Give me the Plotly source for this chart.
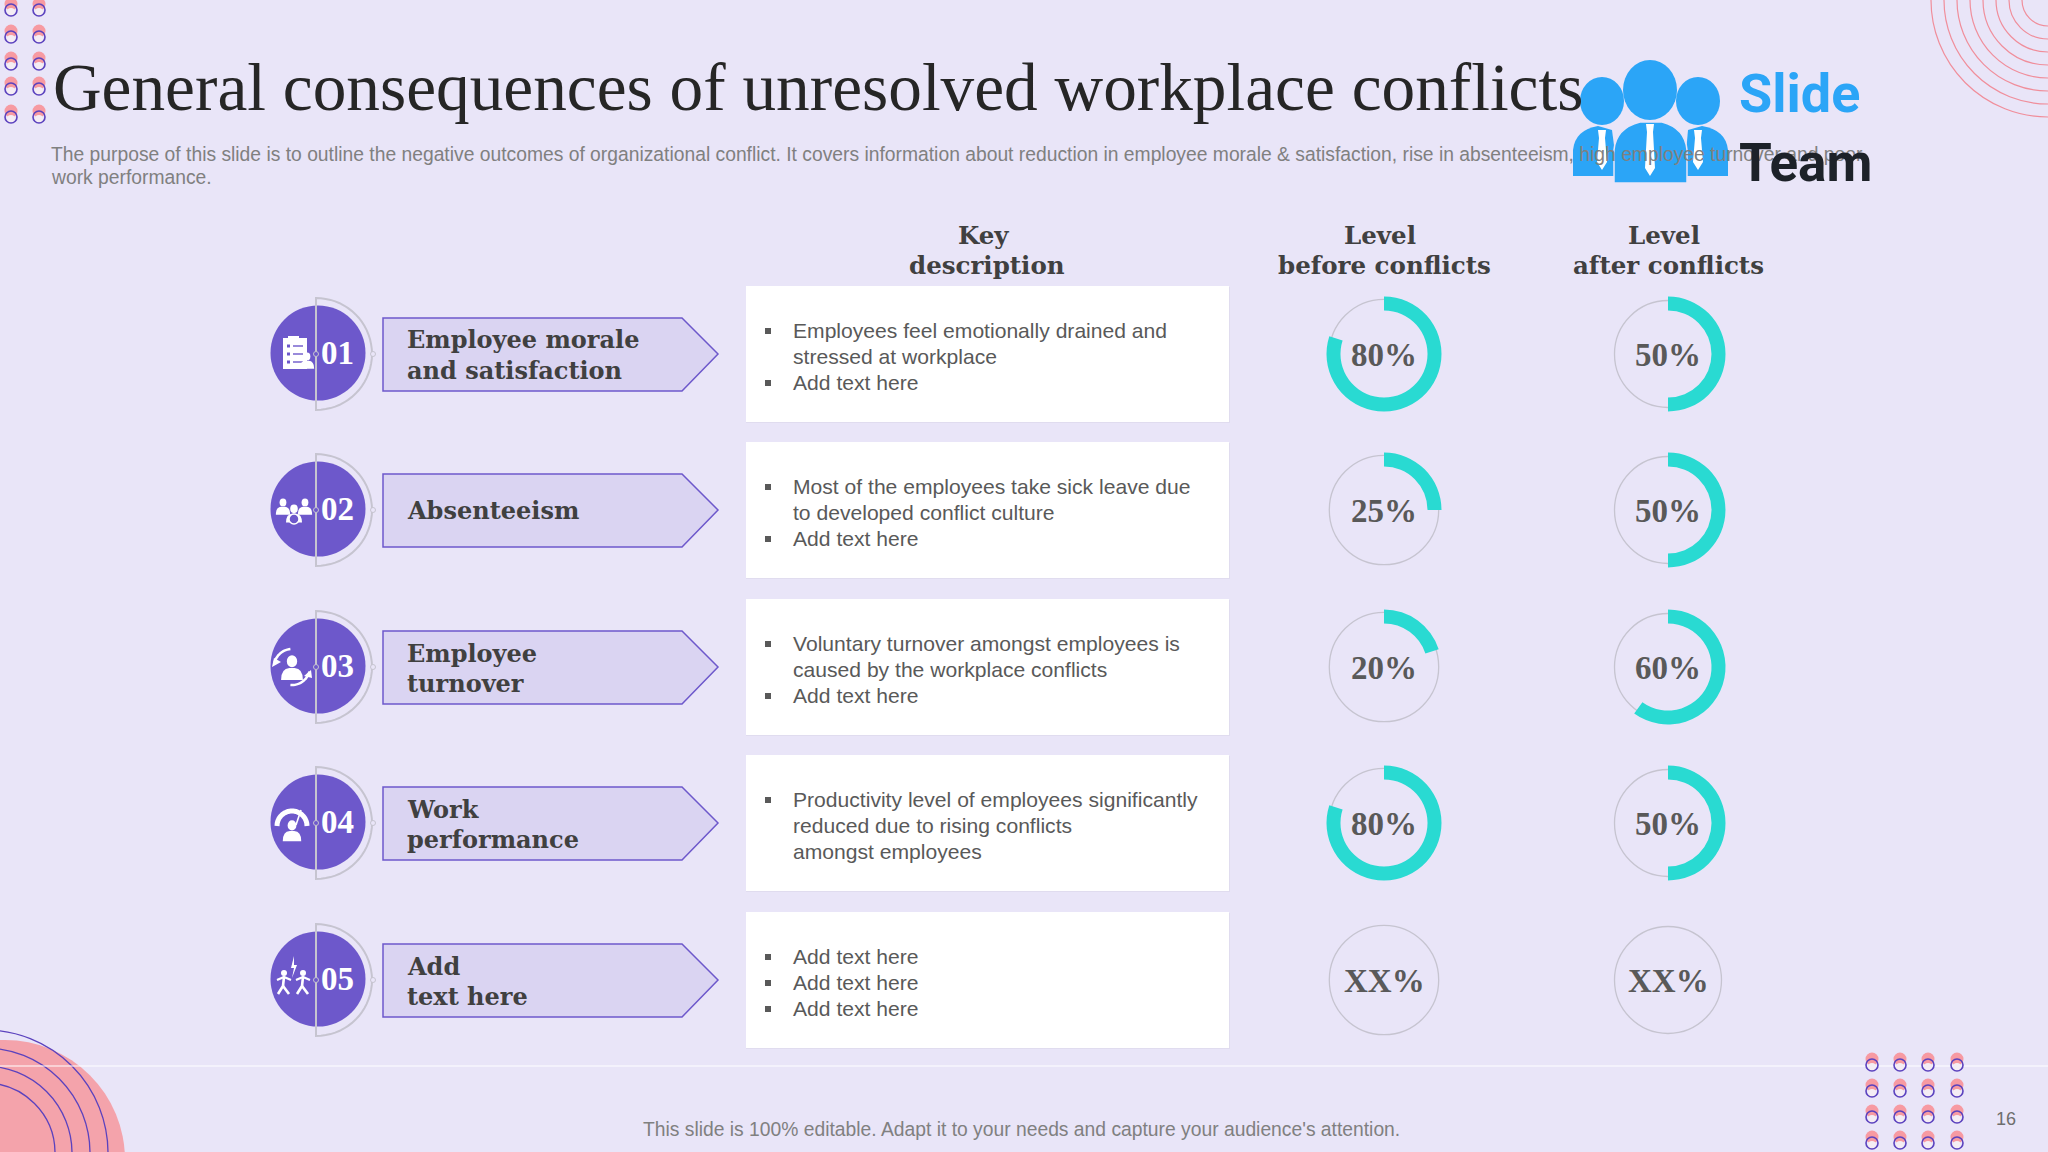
import math
import re

import plotly.graph_objects as go

# slide data ----------------------------------------------------------------------
title = "General consequences of unresolved workplace conflicts"
subtitle = [
    "The purpose of this slide is to outline the negative outcomes of organizational conflict. It covers information about reduction in employee morale & satisfaction, rise in absenteeism, high employee turnover and poor",
    "work performance.",
]
footer = "This slide is 100% editable. Adapt it to your needs and capture your audience's attention."
page_number = "16"

numbers = ["01", "02", "03", "04", "05"]
consequences = [
    ["Employee morale", "and satisfaction"],
    ["Absenteeism"],
    ["Employee", "turnover"],
    ["Work", "performance"],
    ["Add", "text here"],
]
descriptions = [
    [("Employees feel emotionally drained and", True), ("stressed at workplace", False), ("Add text here", True)],
    [("Most of the employees take sick leave due", True), ("to developed conflict culture", False), ("Add text here", True)],
    [("Voluntary turnover amongst employees is", True), ("caused by the workplace conflicts", False), ("Add text here", True)],
    [("Productivity level of employees significantly", True), ("reduced due to rising conflicts", False), ("amongst employees", False)],
    [("Add text here", True), ("Add text here", True), ("Add text here", True)],
]
before_values = [80, 25, 20, 80, None]
after_values = [50, 50, 60, 50, None]

# colours and positions -----------------------------------------------------------
W, H = 2048, 1152
BG = "#E9E5F8"
PURPLE = "#6D58CB"
TEAL = "#29DAD2"
RING = "#C6C4D0"
PINK = "#F4A3AB"
DARK_TEXT = "#404040"
MID_TEXT = "#595959"
GREY_TEXT = "#808080"
SERIF = "Liberation Serif"
WIDE_SERIF = "DejaVu Serif"
SANS = "Liberation Sans"

row_y = [354, 510, 667, 823, 980]
col_before = 1384
col_after = 1668

shapes = []
annotations = []


def fx(x):
    return x / W


def fy(y):
    return 1 - y / H


def px_path(d):
    # path written in pixels -> paper coordinates
    tokens = re.findall(r"[MLQCZ]|-?\d+\.?\d*", d)
    out, is_x = [], True
    for t in tokens:
        if t in "MLQCZ":
            out.append(t)
            is_x = True
        else:
            out.append(f"{fx(float(t)) if is_x else fy(float(t)):.6f}")
            is_x = not is_x
    return " ".join(out).replace(" Z", "Z")


def path(d, fill=None, line=None, width=0):
    shapes.append(dict(type="path", xref="paper", yref="paper", path=px_path(d),
                       fillcolor=fill or "rgba(0,0,0,0)",
                       line=dict(color=line or "rgba(0,0,0,0)", width=width)))


def ellipse(cx, cy, rx, ry=None, fill=None, line=None, width=0):
    ry = rx if ry is None else ry
    shapes.append(dict(type="circle", xref="paper", yref="paper",
                       x0=fx(cx - rx), x1=fx(cx + rx), y0=fy(cy + ry), y1=fy(cy - ry),
                       fillcolor=fill or "rgba(0,0,0,0)",
                       line=dict(color=line or "rgba(0,0,0,0)", width=width)))


def rect(x0, y0, x1, y1, fill, line=None, width=0):
    shapes.append(dict(type="rect", xref="paper", yref="paper",
                       x0=fx(x0), x1=fx(x1), y0=fy(y1), y1=fy(y0), fillcolor=fill,
                       line=dict(color=line or "rgba(0,0,0,0)", width=width)))


def arc(cx, cy, r, a0, a1, move=True):
    # angles in degrees, 0 = up, clockwise
    n = max(int(abs(a1 - a0) / 5), 2)
    pts = []
    for i in range(n + 1):
        a = math.radians(a0 + (a1 - a0) * i / n)
        pts.append((cx + r * math.sin(a), cy - r * math.cos(a)))
    return ("M" if move else "L") + " L ".join(f"{x:.1f} {y:.1f}" for x, y in pts)


def text(x, y, s, size, color, family=SANS, bold=False, anchor="left"):
    annotations.append(dict(
        xref="paper", yref="paper", x=fx(x), y=fy(y), text=s, showarrow=False,
        xanchor=anchor, yanchor="middle", align=anchor,
        font=dict(family=family, size=size, color=color, weight=700 if bold else 400),
    ))


def dot(cx, cy):
    ellipse(cx, cy - 5, 6.5, fill="#F79AA2")
    ellipse(cx, cy + 3, 4, fill="#F4EDF4")
    ellipse(cx, cy + 1, 6, line="#5B42BE", width=1.6)


def person(cx, top, s, fill="white"):
    # small bust, s = head radius
    ellipse(cx, top + s, s, s * 1.15, fill=fill)
    path(f"M{cx - 2.1 * s} {top + 4.6 * s} Q{cx - 2.1 * s} {top + 2.4 * s} {cx - 0.5 * s} {top + 2.3 * s} "
         f"L{cx + 0.5 * s} {top + 2.3 * s} Q{cx + 2.1 * s} {top + 2.4 * s} {cx + 2.1 * s} {top + 4.6 * s} Z", fill=fill)


# icons on the badges ---------------------------------------------------------------
def icon_clipboard(y):
    rect(283, y - 16, 307, y + 15, "white")
    rect(288, y - 18, 299, y - 14, "white")
    for dy in (-8, 0, 8):
        rect(287, y + dy - 1.5, 290, y + dy + 1.5, PURPLE)
        rect(293, y + dy - 0.7, 303, y + dy + 0.7, PURPLE)
    person(307, y - 1, 3.4)


def icon_group(y):
    person(283, y - 11, 3.4)
    person(305, y - 11, 3.4)
    person(294, y - 5, 3.8)
    ellipse(294, y + 9, 5, fill=PURPLE, line="white", width=1.5)


def icon_turnover(y):
    person(292, y - 11, 5.2)
    path(arc(292, y, 18, 285, 355), line="white", width=2.5)
    path(f"M274 {y - 9} L272 {y} L281 {y - 5} Z", fill="white")
    path(arc(292, y, 18, 105, 185), line="white", width=2.5)
    path(f"M311 {y + 3} L312 {y + 11} L304 {y + 9} Z", fill="white")


def icon_gauge(y):
    path(arc(292, y + 3, 15, -90, 90), line="white", width=5)
    path(f"M296 {y + 2} L301 {y - 13}", line="white", width=1.6)
    person(292, y - 2, 4.4)


def icon_runners(y):
    for cx in (284, 303):
        ellipse(cx, y - 7, 3, fill="white")
        path(f"M{cx} {y - 3} L{cx - 1} {y + 6} L{cx - 6} {y + 14}", line="white", width=2.6)
        path(f"M{cx - 1} {y + 6} L{cx + 5} {y + 14}", line="white", width=2.6)
        path(f"M{cx - 7} {y} L{cx} {y - 3} L{cx + 7} {y}", line="white", width=2.2)
    path(f"M294 {y - 24} L291 {y - 12} L294 {y - 12} L292 {y - 2} L297 {y - 15} L294 {y - 15} Z", fill="white")


icons = [icon_clipboard, icon_group, icon_turnover, icon_gauge, icon_runners]

# background decoration -------------------------------------------------------------
for r in (117, 104, 91, 78, 65, 52, 39, 26):
    ellipse(W, 0, r, line="#F08E9B", width=1.2)

ellipse(5, 1160, 120, fill=PINK)
for r in (123, 105, 87, 70):
    ellipse(-15, 1153, r, line="#5B42BE", width=1.3)

path(f"M0 1066 L{W} 1066", line="white", width=1.2)

for cy in (9, 36, 63, 88, 116):
    for cx in (11, 39):
        dot(cx, cy)
for cy in (1064, 1090, 1116, 1142):
    for cx in (1872, 1900, 1928, 1957):
        dot(cx, cy)

# rows ------------------------------------------------------------------------------
traces = []
for i, y in enumerate(row_y):
    # badge
    ellipse(318, y - 1, 47.5, fill=PURPLE)
    path(arc(316, y, 56, 0, 180) + "Z", line=RING, width=2)
    ellipse(316, y, 2.5, fill=PURPLE, line=RING, width=1)
    ellipse(373, y, 2.5, fill=BG, line=RING, width=1)
    icons[i](y)
    text(337.5, y - 1, numbers[i], 33, "white", SERIF, True, "center")

    # arrow label
    path(f"M383 {y - 36} L682 {y - 36} L718 {y} L682 {y + 37} L383 {y + 37} Z",
         fill="#DAD4F2", line=PURPLE, width=1.5)
    lines = consequences[i]
    offsets = [0] if len(lines) == 1 else [-15, 15]
    for line_text, off in zip(lines, offsets):
        text(405, y + off + 1, line_text, 24, DARK_TEXT, WIDE_SERIF, True)

    # description card
    rect(746, y - 67, 1230, y + 69, "#E0DCEF")
    rect(746, y - 68, 1229, y + 68, "white")
    for (line_text, bullet), off in zip(descriptions[i], (-26, 0, 26)):
        if bullet:
            rect(765, y + off, 771, y + off + 6, MID_TEXT)
        text(790.5, y + off + 2.5, line_text, 21.1, MID_TEXT)

    # gauges
    for cx, series, ring_r in ((col_before, before_values, 54.7), (col_after, after_values, 53.5)):
        value = series[i]
        ellipse(cx, y, ring_r, line=RING, width=1.3)
        if value is not None:
            R = 57.5
            traces.append(go.Pie(
                values=[value, 100 - value], sort=False, direction="clockwise", rotation=0,
                hole=0.757, textinfo="none", hoverinfo="skip", showlegend=False,
                marker=dict(colors=[TEAL, "rgba(0,0,0,0)"], line=dict(width=0)),
                domain=dict(x=[fx(cx - R), fx(cx + R)], y=[fy(y + R), fy(y - R)]),
            ))
        label = f"{value}%" if value is not None else "XX%"
        text(cx, y + 1, label, 33, MID_TEXT, SERIF, True, "center")

# column headers --------------------------------------------------------------------
for cx, top, bottom in ((987, "Key", "description"), (col_before, "Level", "before conflicts"), (col_after, "Level", "after conflicts")):
    text(cx - 4, 235, top, 24.5, DARK_TEXT, WIDE_SERIF, True, "center")
    text(cx, 265, bottom, 24.5, DARK_TEXT, WIDE_SERIF, True, "center")

# title block -----------------------------------------------------------------------
text(51, 87, title, 67.3, "#262626", SERIF)
text(49, 154, subtitle[0], 19.3, GREY_TEXT)
text(49, 177, subtitle[1], 19.3, GREY_TEXT)

# logo ------------------------------------------------------------------------------
LOGO = "#2BA5F7"
ellipse(1602, 101, 22, 24, fill=LOGO)
ellipse(1698, 101, 22, 24, fill=LOGO)
ellipse(1650, 90, 27, 30, fill=LOGO)
path("M1573 176 L1573 150 Q1575 130 1598 126 L1612 130 L1618 176 Z", fill=LOGO)
path("M1728 176 L1728 150 Q1726 130 1702 126 L1688 130 L1684 176 Z", fill=LOGO)
path("M1614 183 L1614 150 Q1616 128 1640 122 L1662 122 Q1685 128 1687 150 L1687 183 Z", fill=LOGO, line=BG, width=1.5)
for cx, y0, y1 in ((1602, 130, 170), (1698, 130, 170), (1650, 124, 176)):
    path(f"M{cx - 4} {y0} L{cx + 4} {y0} L{cx + 3} {y0 + 8} L{cx + 5} {y1 - 8} L{cx} {y1} L{cx - 5} {y1 - 8} L{cx - 3} {y0 + 8} Z", fill="white")
text(1737, 94, "Slide", 54, LOGO, "Roboto", True)
text(1737, 163, "Team", 53, "#1D2229", "Roboto", True)

# footer ----------------------------------------------------------------------------
text(1021, 1129, footer, 19.3, GREY_TEXT, SANS, False, "center")
text(2006, 1119, page_number, 18, "#6E6E6E", SANS, False, "center")

fig = go.Figure(traces)
for s in shapes:
    s["layer"] = "below"
fig.update_layout(
    width=W, height=H, margin=dict(l=0, r=0, t=0, b=0),
    paper_bgcolor=BG, plot_bgcolor=BG, showlegend=False,
    xaxis=dict(visible=False), yaxis=dict(visible=False),
    shapes=shapes, annotations=annotations,
)

fig.write_html("out.html", config={"displayModeBar": False},
               post_script="document.body.style.margin='0';document.body.style.overflow='hidden';")
